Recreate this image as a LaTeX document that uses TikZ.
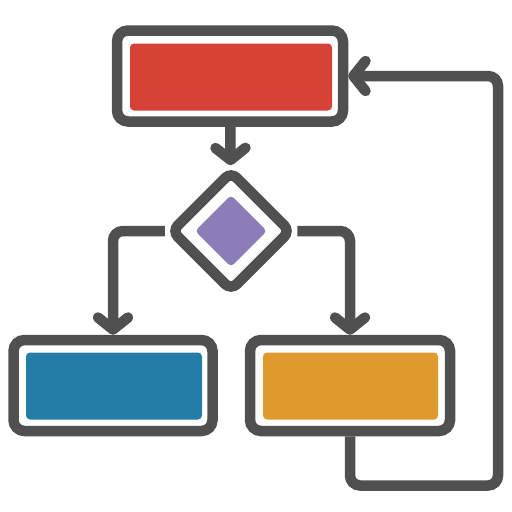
\documentclass[tikz,border=0pt]{standalone}
\usepackage{xcolor}
\usepackage{tikz}
\usetikzlibrary{arrows.meta,positioning,shapes.geometric}
\definecolor{icgray}{RGB}{80,80,80}
\definecolor{icred}{RGB}{214,66,54}
\definecolor{icblue}{RGB}{35,125,166}
\definecolor{icorange}{RGB}{224,154,45}
\definecolor{icpurple}{RGB}{140,125,184}

\begin{document}
\begin{tikzpicture}[
  x=1pt, y=-1pt,
  frame/.style={draw=icgray, fill=white, line width=10.5pt, rounded corners=11pt, inner sep=0pt, minimum height=91pt},
  inbox/.style={rounded corners=4pt, inner sep=0pt, minimum height=67pt},
  arr/.style={-{Straight Barb[length=12pt, width=30pt, round]}, line width=10.5pt, icgray, rounded corners=10pt}
]
\useasboundingbox (0,0) rectangle (512,512);
\node[frame, minimum width=226pt] (top) at (230,76) {};
\node[inbox, fill=icred, minimum width=202pt] (topin) at (231,77) {};
\node[frame, diamond, minimum width=122pt, minimum height=122pt, rounded corners=8pt] (dec) at (231,231) {};
\node[inbox, diamond, fill=icpurple, minimum width=72pt, minimum height=72pt] (decin) at (231,231) {};
\node[frame, minimum width=199pt] (left) at (113,385.5) {};
\node[inbox, fill=icblue, minimum width=176pt] (leftin) at (114,386) {};
\node[frame, minimum width=200pt] (right) at (350,385.5) {};
\node[inbox, fill=icorange, minimum width=175pt] (rightin) at (350.5,386) {};
\coordinate (bend) at (498,485.5);
\draw[arr] (top) -- (dec);
\draw[arr] (dec.west) -| (left);
\draw[arr] (dec.east) -| (right);
\draw[arr] (right.south) |- (bend) |- (top.east);
\end{tikzpicture}
\end{document}
